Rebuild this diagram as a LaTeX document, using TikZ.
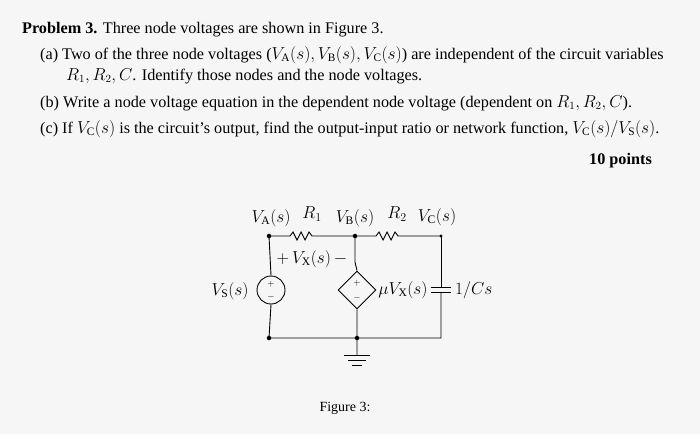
\documentclass[tikz,border=0pt]{standalone}
\usepackage{fontspec}
\setmainfont{Liberation Serif}
\usetikzlibrary{shapes.geometric}
\begin{document}
\begin{tikzpicture}[x=1pt,y=-1pt,
  txt/.style={anchor=west,inner sep=0pt,font=\fontsize{16.2}{18}\selectfont},
  lbl/.style={inner sep=1pt,font=\fontsize{16.5}{18}\selectfont},
  dot/.style={circle,fill,inner sep=1.6pt},
  wire/.style={line width=0.9pt}]
\fill[white!93!gray] (0,0) rectangle (700,434);
\useasboundingbox (0,0) rectangle (700,434);
\node[txt] (t0) at (22,30) {\textbf{Problem 3.} Three node voltages are shown in Figure 3.};
\node[txt] (ta) at (40,55) {(a) Two of the three node voltages ($V_{\mathrm A}(s),V_{\mathrm B}(s),V_{\mathrm C}(s)$) are independent of the circuit variables};
\node[txt] (ta2) at (66,76) {$R_1,R_2,C$. Identify those nodes and the node voltages.};
\node[txt] (tb) at (40,103) {(b) Write a node voltage equation in the dependent node voltage (dependent on $R_1,R_2,C$).};
\node[txt] (tc) at (40,129) {(c) If $V_{\mathrm C}(s)$ is the circuit's output, find the output-input ratio or network function, $V_{\mathrm C}(s)/V_{\mathrm S}(s)$.};
\node[txt,anchor=east] (pts) at (652,161) {\textbf{10 points}};
% circuit
\coordinate (A) at (269,236);
\coordinate (B) at (355,236);
\coordinate (C) at (441,236);
\coordinate (D) at (269,338);
\coordinate (E) at (357,338);
\coordinate (F) at (441,338);
\node[draw,wire,circle,minimum size=28pt,inner sep=0pt] (vs) at (271,290) {};
\node[font=\small] at (271,284) {$+$};
\node[font=\small] at (271,297) {$-$};
\node[draw,wire,diamond,minimum size=38pt,inner sep=0pt] (dep) at (357,290) {};
\node[font=\small] at (357,283) {$+$};
\node[font=\small] at (357,298) {$-$};
\draw[wire] (A) -- (290,236) -- ++(3,-4) -- ++(4,8) -- ++(4,-8) -- ++(4,8) -- ++(4,-8) -- ++(3,4) -- (B)
  -- (376,236) -- ++(3,-4) -- ++(4,8) -- ++(4,-8) -- ++(4,8) -- ++(4,-8) -- ++(3,4) -- (C);
\draw[wire] (A) -- (vs.north) (vs.south) -- (D) -- (E) -- (F) -- (441,292);
\draw[wire] (C) -- (441,287);
\draw[wire] (431,287) -- (451,287) (431,292) -- (451,292);
\draw[wire] (B) -- (355,262) -- (dep.north) (dep.south) -- (E) -- (357,355);
\draw[wire] (344,355) -- (370,355) (348,360) -- (366,360) (352,365) -- (362,365);
\node[dot] at (A) {}; \node[dot] at (B) {}; \node[dot] at (D) {}; \node[dot] at (E) {};
\node[circle,fill,inner sep=1.2pt] at (C) {};
\node[lbl] at (271,218) {$V_{\mathrm A}(s)$};
\node[lbl] at (312,214) {$R_1$};
\node[lbl] at (355,218) {$V_{\mathrm B}(s)$};
\node[lbl] at (397,214) {$R_2$};
\node[lbl] at (437,217) {$V_{\mathrm C}(s)$};
\node[lbl] at (312,259) {$+\,V_{\mathrm X}(s)\,-$};
\node[lbl] at (230,291) {$V_{\mathrm S}(s)$};
\node[lbl] at (403,290) {$\mu V_{\mathrm X}(s)$};
\node[lbl,anchor=west] at (454,290) {$1/Cs$};
\node[lbl,font=\fontsize{14}{15}\selectfont] at (345,408) {Figure 3:};
\end{tikzpicture}
\end{document}
